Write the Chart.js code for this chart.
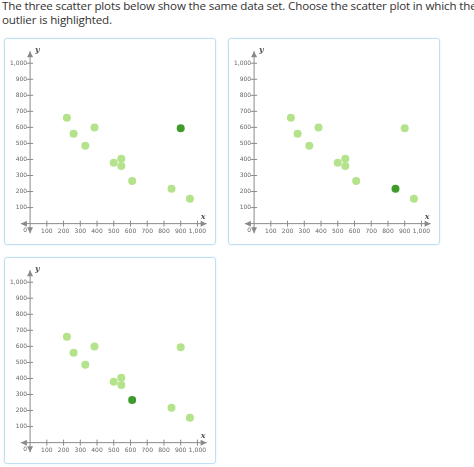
<!DOCTYPE html>
<html><head><meta charset="utf-8">
<script src="https://cdn.jsdelivr.net/npm/chart.js@4"></script>
<style>
body{margin:0;background:#fff;font-family:"DejaVu Sans",sans-serif;}
#t{position:absolute;left:2px;top:-1px;width:480px;font-family:"Open Sans",sans-serif;font-size:11.6px;line-height:14px;color:#333;letter-spacing:-0.15px;white-space:nowrap;}
.p{position:absolute;width:210px;height:205px;border:1px solid #bfe0f2;border-radius:3px;box-shadow:0 0 2px #d8ecf7;}
.p canvas{position:absolute;left:1px;top:0;}
</style></head><body>
<div id="t">The three scatter plots below show the same data set. Choose the scatter plot in which the<br>outlier is highlighted.</div>
<div class="p" style="left:4px;top:38px"><canvas id="c0" width="210" height="205"></canvas></div>
<div class="p" style="left:228px;top:38px"><canvas id="c1" width="210" height="205"></canvas></div>
<div class="p" style="left:4px;top:257px"><canvas id="c2" width="210" height="205"></canvas></div>
<script>
const xs=[220,260,330,385,500,545,545,610,845,955,900];
const ys=[660,560,485,600,380,405,360,265,218,155,595];
const highlighted=[10,8,7];
const ticks=[100,200,300,400,500,600,700,800,900,1000];

const axes={id:'axes',beforeDatasetsDraw(c){
 const g=c.ctx,X=c.scales.x,Y=c.scales.y;
 const x0=X.getPixelForValue(0),y0=Y.getPixelForValue(0);
 g.save();g.strokeStyle='#8a8a8a';g.fillStyle='#8a8a8a';g.lineWidth=1;
 const xl=X.getPixelForValue(-55),xr=X.getPixelForValue(1055),yt=Y.getPixelForValue(1075),yb=Y.getPixelForValue(-60);
 g.beginPath();g.moveTo(xl,y0);g.lineTo(xr,y0);g.moveTo(x0,yt);g.lineTo(x0,yb);g.stroke();
 function arrow(x,y,dx,dy){g.beginPath();g.moveTo(x,y);g.lineTo(x-dx*6+dy*3,y-dy*6+dx*3);g.lineTo(x-dx*6-dy*3,y-dy*6-dx*3);g.closePath();g.fill();}
 arrow(xl,y0,-1,0);arrow(xr,y0,1,0);arrow(x0,yt,0,-1);arrow(x0,yb,0,1);
 g.font='6px "DejaVu Sans"';g.fillStyle='#666';
 ticks.forEach(t=>{
  const px=X.getPixelForValue(t),py=Y.getPixelForValue(t);
  g.beginPath();g.moveTo(px,y0-3);g.lineTo(px,y0+3);g.moveTo(x0-3,py);g.lineTo(x0+3,py);g.stroke();
  const s=t.toLocaleString('en-US');
  g.textAlign='center';g.textBaseline='top';g.fillText(s,px,y0+5);
  g.textAlign='right';g.textBaseline='middle';g.fillText(s,x0-3,py);
 });
 g.textAlign='right';g.textBaseline='top';g.fillText('0',x0-3,y0+4);
 g.font='italic bold 8px "DejaVu Serif"';g.fillStyle='#555';
 g.textAlign='left';g.textBaseline='bottom';
 g.fillText('y',x0+5,Y.getPixelForValue(1060));
 g.fillText('x',X.getPixelForValue(1020),y0-3);
 g.restore();
}};

highlighted.forEach((h,i)=>{
 const pts=xs.map((x,j)=>({x:x,y:ys[j]}));
 new Chart(document.getElementById('c'+i),{
  type:'scatter',
  data:{datasets:[{data:pts,
   backgroundColor:pts.map((p,j)=>j===h?'#3f9b2a':'#b4e38c'),
   borderWidth:0,pointRadius:4,pointHoverRadius:4}]},
  options:{responsive:false,animation:false,events:[],layout:{padding:0},
   plugins:{legend:{display:false},tooltip:{enabled:false}},
   scales:{x:{type:'linear',min:-120,max:1087,display:false},
           y:{type:'linear',min:-102,max:1126,display:false}}},
  plugins:[axes]
 });
});
</script>
</body></html>
